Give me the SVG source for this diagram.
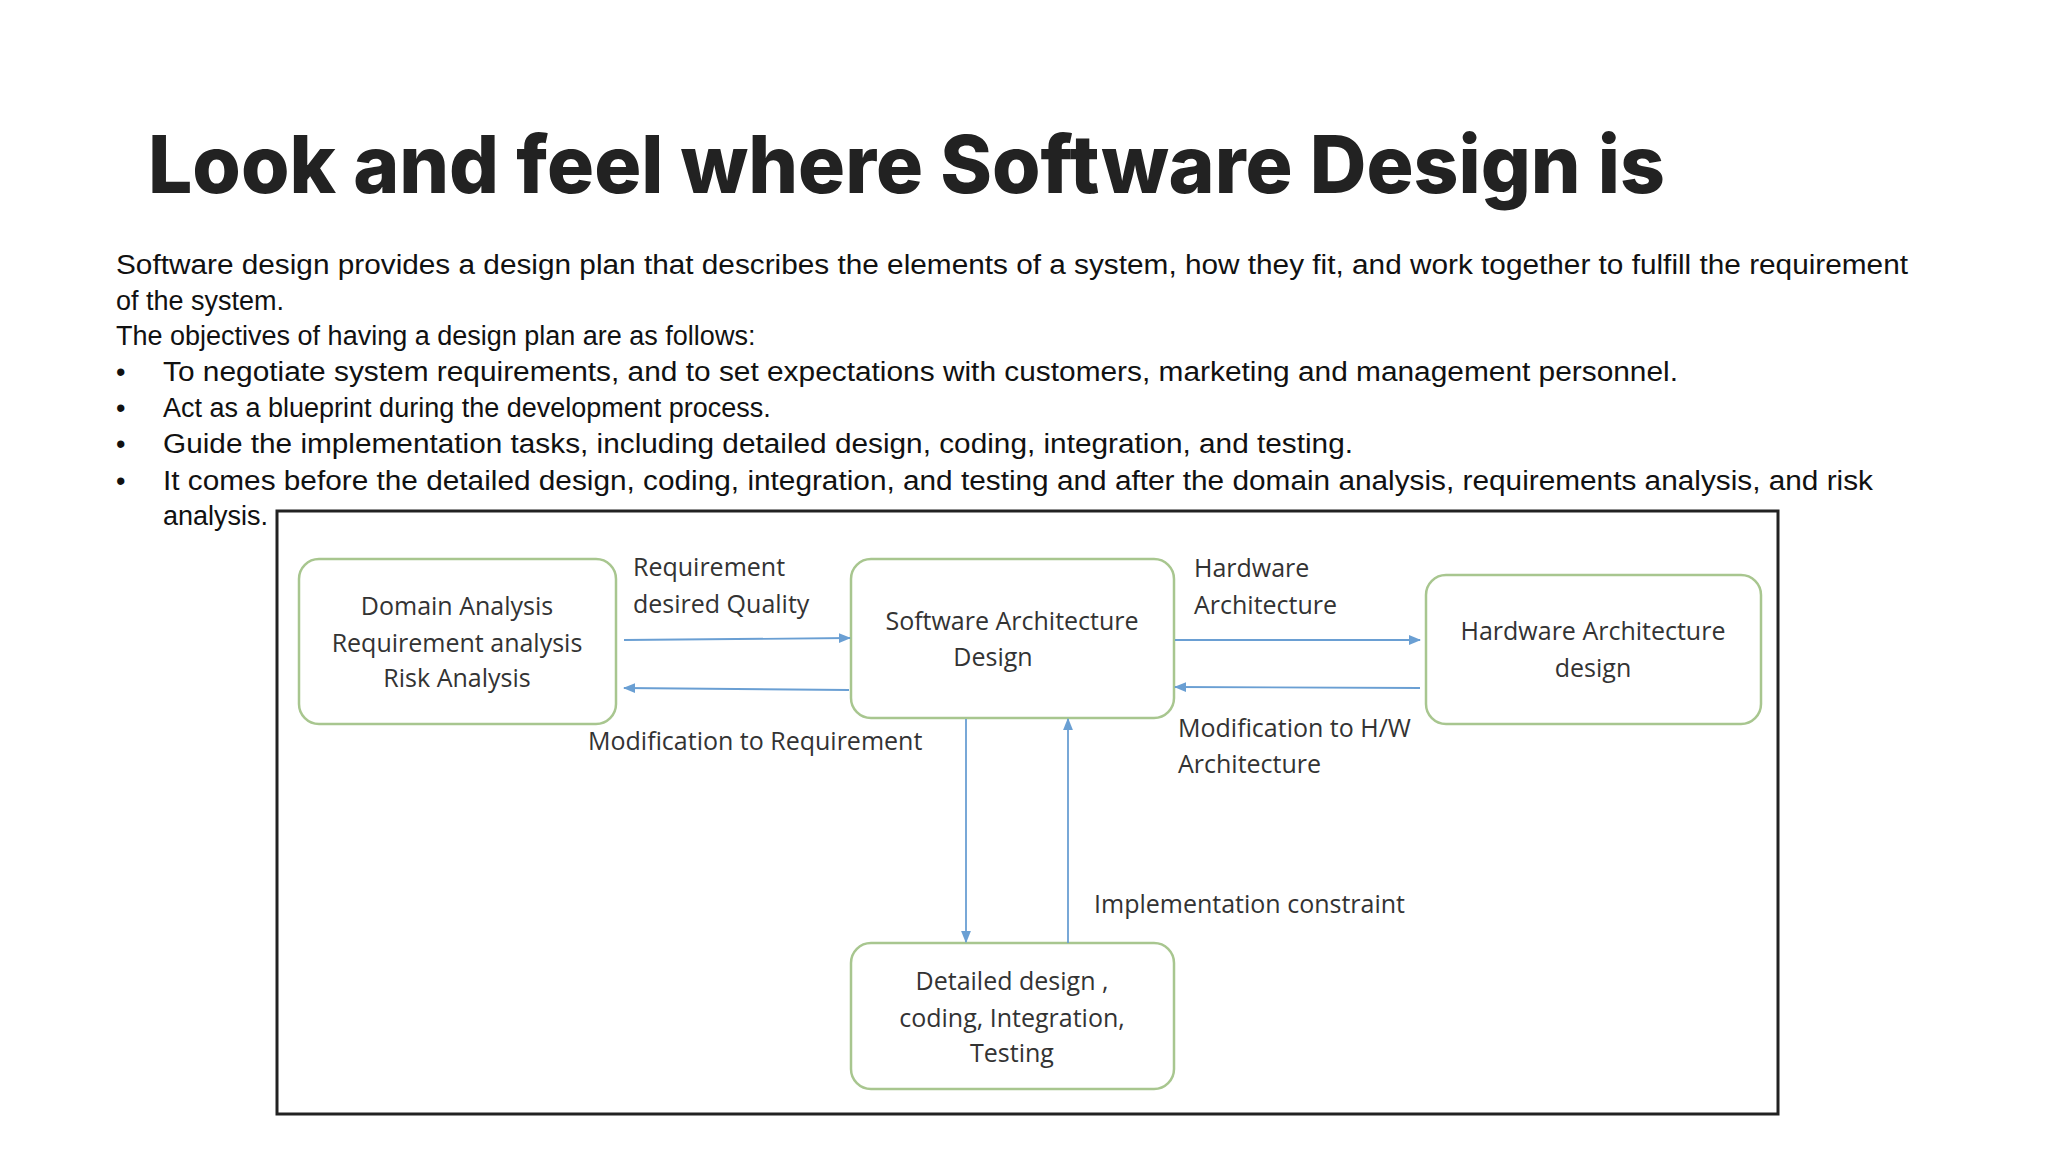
<svg xmlns="http://www.w3.org/2000/svg" width="2048" height="1152" viewBox="0 0 2048 1152">
<style>
.b{font-family:"Liberation Sans",Arial,sans-serif;font-size:27px;fill:#111}
.n{fill:#fff;stroke:#a8c68f;stroke-width:2.5}
.t{font-family:"Open Sans","Liberation Sans",sans-serif;font-size:25px;fill:#333;text-anchor:middle}
.l{font-family:"Open Sans","Liberation Sans",sans-serif;font-size:25px;fill:#333}
.c{stroke:#6a9fd3;stroke-width:1.8;fill:none;marker-end:url(#a)}
</style>
<defs><marker id="a" viewBox="0 0 10 10" refX="9" refY="5" markerWidth="7" markerHeight="7" orient="auto"><path d="M0,1 L10,5 L0,9 z" fill="#6a9fd3"/></marker></defs>
<rect width="2048" height="1152" fill="#fff"/>
<text x="148" y="193" font-family="Inter,'Noto Sans',sans-serif" font-weight="800" font-size="80" fill="#222" textLength="1517" lengthAdjust="spacingAndGlyphs">Look and feel where Software Design is</text>
<g id="body">
<text class="b" x="116" y="274" textLength="1792" lengthAdjust="spacingAndGlyphs">Software design provides a design plan that describes the elements of a system, how they fit, and work together to fulfill the requirement</text>
<text class="b" x="116" y="310">of the system.</text>
<text class="b" x="116" y="345">The objectives of having a design plan are as follows:</text>
<text class="b" x="116" y="381">•</text><text class="b" x="163" y="381" textLength="1515" lengthAdjust="spacingAndGlyphs">To negotiate system requirements, and to set expectations with customers, marketing and management personnel.</text>
<text class="b" x="116" y="417">•</text><text class="b" x="163" y="417">Act as a blueprint during the development process.</text>
<text class="b" x="116" y="453">•</text><text class="b" x="163" y="453" textLength="1190" lengthAdjust="spacingAndGlyphs">Guide the implementation tasks, including detailed design, coding, integration, and testing.</text>
<text class="b" x="116" y="490">•</text><text class="b" x="163" y="490" textLength="1710" lengthAdjust="spacingAndGlyphs">It comes before the detailed design, coding, integration, and testing and after the domain analysis, requirements analysis, and risk</text>
<text class="b" x="163" y="525">analysis.</text>
</g>
<rect id="frame" x="277" y="511" width="1501" height="603" fill="#fff" stroke="#222" stroke-width="3"/>
<g id="domain"><rect class="n" x="299" y="559" width="317" height="165" rx="20"/>
<text class="t" x="457" y="615">Domain Analysis</text><text class="t" x="457" y="652">Requirement analysis</text><text class="t" x="457" y="687">Risk Analysis</text></g>
<g id="software"><rect class="n" x="851" y="559" width="323" height="159" rx="20"/>
<text class="t" x="1012" y="630">Software Architecture</text><text class="t" x="993" y="666">Design</text></g>
<g id="hardware"><rect class="n" x="1426" y="575" width="335" height="149" rx="20"/>
<text class="t" x="1593" y="640">Hardware Architecture</text><text class="t" x="1593" y="677">design</text></g>
<g id="detailed"><rect class="n" x="851" y="943" width="323" height="146" rx="20"/>
<text class="t" x="1012" y="990">Detailed design ,</text><text class="t" x="1012" y="1027">coding, Integration,</text><text class="t" x="1012" y="1062">Testing</text></g>
<g id="connectors">
<line class="c" x1="624" y1="640" x2="850" y2="638"/>
<line class="c" x1="849" y1="690" x2="624" y2="688"/>
<line class="c" x1="1175" y1="640" x2="1420" y2="640"/>
<line class="c" x1="1420" y1="688" x2="1175" y2="687"/>
<line class="c" x1="966" y1="719" x2="966" y2="942"/>
<line class="c" x1="1068" y1="943" x2="1068" y2="719"/>
<text class="l" x="633" y="576">Requirement</text><text class="l" x="633" y="613">desired Quality</text>
<text class="l" x="1194" y="577">Hardware</text><text class="l" x="1194" y="614">Architecture</text>
<text class="l" x="588" y="750">Modification to Requirement</text>
<text class="l" x="1178" y="737">Modification to H/W</text><text class="l" x="1178" y="773">Architecture</text>
<text class="l" x="1094" y="913">Implementation constraint</text>
</g>
</svg>
